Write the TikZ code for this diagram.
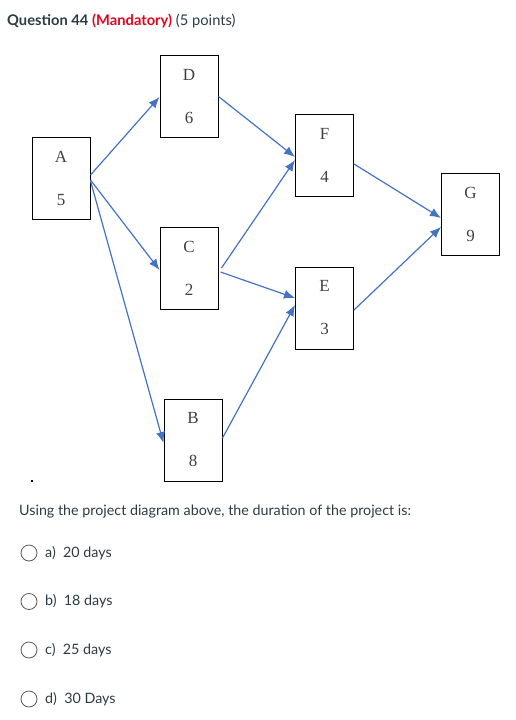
\documentclass[tikz,border=0pt]{standalone}
\usepackage{fontspec}
\setmainfont{Lato}
\newfontfamily\boxfont{Liberation Serif}
\usetikzlibrary{arrows.meta}
\definecolor{arrowblue}{RGB}{68,114,196}
\definecolor{qred}{RGB}{224,6,31}
\definecolor{qtext}{RGB}{45,59,69}
\definecolor{boxtext}{RGB}{64,64,64}
\tikzset{
  task/.style = {draw = black, line width = 1pt, minimum width = 58pt, minimum height = 82pt,
                 inner sep = 0pt, align = center, font = \boxfont\fontsize{17}{20}\selectfont, text = boxtext},
  link/.style = {draw = arrowblue, line width = 1.2pt, -{Latex[length=11pt,width=9pt]}},
  radio/.style = {draw = black!65, line width = 0.8pt, circle, minimum size = 16pt, inner sep = 0pt},
  answer/.style = {anchor = west, inner sep = 0pt, text = qtext, font = \fontsize{14.3}{16}\selectfont}
}
\begin{document}
\begin{tikzpicture}[x = 1pt, y = -1pt]
\useasboundingbox (0,0) rectangle (516,720);
%% header
\node [anchor = west, inner sep = 0pt, text = qtext, font = \fontsize{14.7}{16}\selectfont] (title) at (7,21)
  {\textbf{Question 44} \textcolor{qred}{\textbf{(Mandatory)}} (5 points)};
%% activity boxes
\node [task] (A) at (61,178) {A\\[23pt]5};
\node [task] (D) at (189,96.5) {D\\[23pt]6};
\node [task] (C) at (189,268) {C\\[23pt]2};
\node [task] (B) at (193,440) {B\\[23pt]8};
\node [task] (F) at (324.5,155) {F\\[23pt]4};
\node [task] (E) at (324.5,308) {E\\[23pt]3};
\node [task] (G) at (470.5,214) {G\\[23pt]9};
%% precedence arrows
\draw [link] ([yshift = 3pt]A.east) -- ([yshift = -0.5pt]D.west);
\draw [link] ([yshift = -2pt]A.east) -- ([yshift = -2pt]C.west);
\draw [link] ([yshift = -3pt]A.east) -- ([yshift = -3pt]B.west);
\draw [link] (D.east) -- ([yshift = -2pt]F.west);
\draw [link] ([xshift = 3pt]C.east) -- ([yshift = -5pt]F.west);
\draw [link] ([xshift = 2pt, yshift = -4pt]C.east) -- ([yshift = 10pt]E.west);
\draw [link] ([yshift = 2pt]B.east) -- ([yshift = 3pt]E.west);
\draw [link] ([yshift = -9pt]F.east) -- ([yshift = -4pt]G.west);
\draw [link] ([yshift = -2pt]E.east) -- ([yshift = -13pt]G.west);
\node [inner sep = 0pt, fill = black, minimum size = 1.2pt] (dot) at (32,481) {};
%% question and choices
\node [answer] (question) at (19,512) {Using the project diagram above, the duration of the project is:};
\node [radio] (ra) at (29,553) {};
\node [answer] (ta) at (45,553) {a)\ \ 20 days};
\node [radio] (rb) at (29,601.5) {};
\node [answer] (tb) at (45,601.5) {b)\ \ 18 days};
\node [radio] (rc) at (29,650) {};
\node [answer] (tc) at (45,650) {c)\ \ 25 days};
\node [radio] (rd) at (29,699) {};
\node [answer] (td) at (45,699) {d)\ \ 30 Days};
\end{tikzpicture}
\end{document}
